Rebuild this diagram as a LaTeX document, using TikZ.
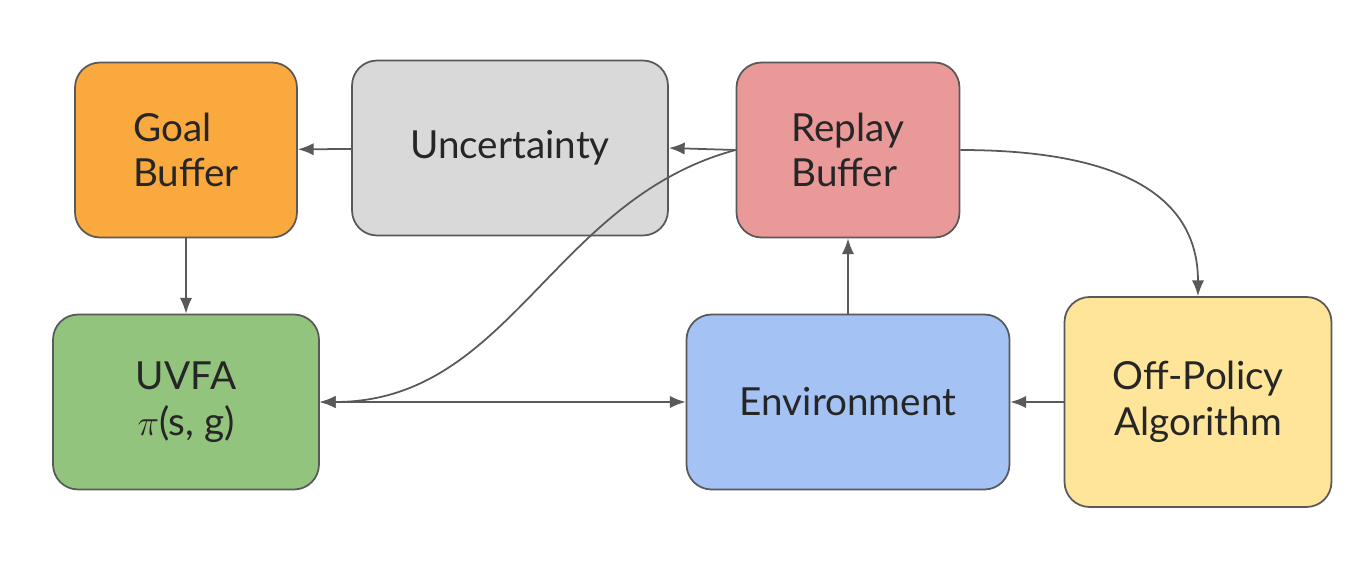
\documentclass[tikz,border=0pt]{standalone}
\usepackage{fontspec}
\setmainfont{Lato}
\usetikzlibrary{arrows.meta}
\definecolor{goalc}{HTML}{F9A93E}
\definecolor{uncc}{HTML}{D9D9D9}
\definecolor{replc}{HTML}{EA9999}
\definecolor{uvfac}{HTML}{93C47D}
\definecolor{envc}{HTML}{A4C2F4}
\definecolor{offc}{HTML}{FFE599}
\definecolor{edgec}{HTML}{595959}
\tikzset{
  blk/.style={draw=edgec, line width=1pt, rounded corners=0.5cm, minimum height=3.5cm, font=\fontsize{22}{26}\selectfont, text=black!85},
  arr/.style={-{Latex[length=9pt,width=7pt]}, draw=edgec, line width=1pt}
}
\begin{document}
\begin{tikzpicture}[x=0.02cm,y=-0.02cm]
\useasboundingbox (0,0) rectangle (1360,568);
\node[blk, fill=goalc, minimum width=4.44cm, align=left] (goal) at (186,150) {Goal\\Buffer};
\node[blk, fill=uncc, minimum width=6.32cm] (unc) at (510,148) {Uncertainty};
\node[blk, fill=replc, minimum width=4.46cm, align=left] (repl) at (848,150) {Replay\\Buffer};
\node[blk, fill=uvfac, minimum width=5.32cm, align=center] (uvfa) at (186,402) {UVFA\\$\pi$(s, g)};
\node[blk, fill=envc, minimum width=6.46cm] (env) at (848,402) {Environment};
\node[blk, fill=offc, minimum width=5.34cm, minimum height=4.2cm, align=center] (off) at (1198,402) {Off-Policy\\Algorithm};
\draw[arr] (unc) -- (goal);
\draw[arr] (repl.west) -- (unc.east);
\draw[arr] (goal) -- (uvfa);
\draw[arr] (env) -- (repl);
\draw[arr] (off) -- (env);
\draw[arr, {Latex[length=9pt,width=7pt]}-{Latex[length=9pt,width=7pt]}] (uvfa.east) -- (env.west);
\draw[arr] (repl.east) to[out=0, in=90, looseness=1.1] (off.north);
\draw[arr] (repl.west) to[out=195, in=0, looseness=1] (uvfa.east);
\end{tikzpicture}
\end{document}
